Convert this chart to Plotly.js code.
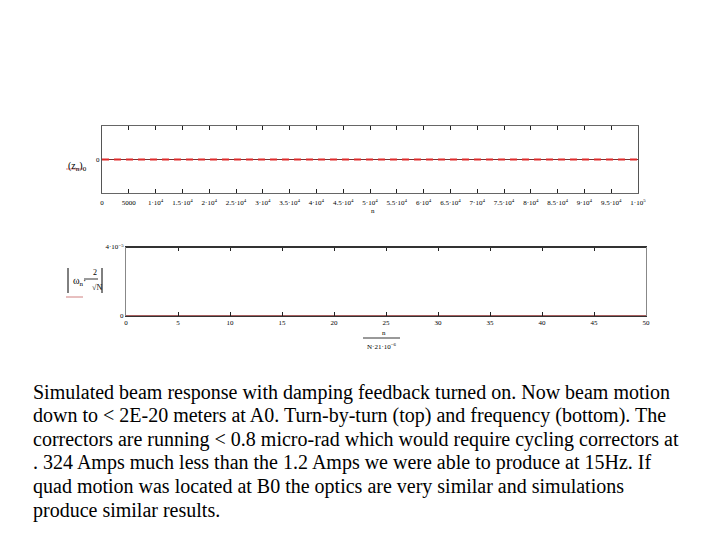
<!DOCTYPE html>
<html>
<head>
<meta charset="utf-8">
<script src="https://cdn.plot.ly/plotly-3.0.1.min.js"></script>
<style>html,body{margin:0;padding:0;background:#fff;}#chart{width:720px;height:540px;}</style>
</head>
<body>
<div id="chart"></div>
<script>
// Top panel: turn-by-turn position (values ~1e-20, drawn as zero)
var turnN = [0, 5000, 10000, 15000, 20000, 25000, 30000, 35000, 40000, 45000, 50000,
             55000, 60000, 65000, 70000, 75000, 80000, 85000, 90000, 95000, 100000];
var turnZ = [0, 0, 0, 0, 0, 0, 0, 0, 0, 0, 0, 0, 0, 0, 0, 0, 0, 0, 0, 0, 0];
var turnTickVals = [0, 5000, 10000, 15000, 20000, 25000, 30000, 35000, 40000, 45000, 50000,
             55000, 60000, 65000, 70000, 75000, 80000, 85000, 90000, 95000, 100000];
var turnTickText = ["0", "5000", "1·10<sup>4</sup>", "1.5·10<sup>4</sup>", "2·10<sup>4</sup>", "2.5·10<sup>4</sup>",
  "3·10<sup>4</sup>", "3.5·10<sup>4</sup>", "4·10<sup>4</sup>", "4.5·10<sup>4</sup>", "5·10<sup>4</sup>",
  "5.5·10<sup>4</sup>", "6·10<sup>4</sup>", "6.5·10<sup>4</sup>", "7·10<sup>4</sup>", "7.5·10<sup>4</sup>",
  "8·10<sup>4</sup>", "8.5·10<sup>4</sup>", "9·10<sup>4</sup>", "9.5·10<sup>4</sup>", "1·10<sup>5</sup>"];

// Bottom panel: frequency spectrum (essentially zero, tiny bump near 20)
var freqX = [0, 5, 10, 15, 18, 19, 19.5, 20, 20.5, 21, 22, 25, 30, 35, 40, 45, 50];
var freqAmp = [0, 0, 0, 0, 0, 0, 1e-7, 4e-7, 1e-7, 0, 0, 0, 0, 0, 0, 0, 0];
var freqTickVals = [0, 5, 10, 15, 20, 25, 30, 35, 40, 45, 50];
var freqTickText = ["0", "5", "10", "15", "20", "25", "30", "35", "40", "45", "50"];
var ampTickVals = [0, 4e-5];
var ampTickText = ["0", "4·10<sup>−5</sup>"];

var captionLines = [
  "Simulated beam response with damping feedback turned on. Now beam motion",
  "down to &lt; 2E-20 meters at A0. Turn-by-turn (top) and frequency (bottom). The",
  "correctors are running &lt; 0.8 micro-rad which would require cycling correctors at",
  ". 324 Amps much less than the 1.2 Amps we were able to produce at 15Hz. If",
  "quad motion was located at B0 the optics are very similar and simulations",
  "produce similar results."
];

var W = 720, H = 540;
function px(x){ return x / W; }
function py(y){ return 1 - y / H; }

var serif = "Liberation Serif, Times New Roman, serif";
var tickFont = {family: serif, size: 7, color: "#000"};
var labFont = {family: serif, size: 10, color: "#000"};
var smallLab = {family: serif, size: 8, color: "#000"};

var traces = [
  {x: turnN, y: turnZ, xaxis: "x", yaxis: "y", mode: "lines",
   line: {color: "#7a3030", width: 1}, hoverinfo: "skip"},
  {x: turnN, y: turnZ, xaxis: "x", yaxis: "y", mode: "lines",
   line: {color: "#e02a2a", width: 2, dash: "7px,5px"}, hoverinfo: "skip"},
  {x: freqX, y: freqAmp, xaxis: "x2", yaxis: "y2", mode: "lines",
   line: {color: "#8a2a2a", width: 1.5}, hoverinfo: "skip"}
];

var axBase = {showgrid: false, zeroline: false, showline: true, linewidth: 1,
  ticks: "inside", ticklen: 4, tickcolor: "#222", tickfont: tickFont, fixedrange: true};

var layout = {
  width: W, height: H,
  margin: {l: 0, r: 0, t: 0, b: 0},
  paper_bgcolor: "#fff", plot_bgcolor: "#fff",
  showlegend: false,
  xaxis: Object.assign({}, axBase, {
    domain: [px(102), px(638)], anchor: "y", range: [0, 100000],
    tickmode: "array", tickvals: turnTickVals, ticktext: turnTickText,
    mirror: "ticks", linecolor: "#666", ticklabelstandoff: 3
  }),
  yaxis: Object.assign({}, axBase, {
    domain: [py(193), py(126)], anchor: "x", range: [-1, 1],
    tickmode: "array", tickvals: [0], ticktext: ["0"], ticks: "",
    mirror: true, linecolor: "#555"
  }),
  xaxis2: Object.assign({}, axBase, {
    domain: [px(126), px(646)], anchor: "y2", range: [0, 50],
    tickmode: "array", tickvals: freqTickVals, ticktext: freqTickText,
    mirror: "ticks", linecolor: "#333"
  }),
  yaxis2: Object.assign({}, axBase, {
    domain: [py(316), py(247)], anchor: "x2", range: [0, 4e-5],
    tickmode: "array", tickvals: ampTickVals, ticktext: ampTickText, ticks: "",
    mirror: true, linecolor: "#888"
  }),
  shapes: [
    {type: "line", xref: "paper", yref: "paper", x0: px(126), x1: px(646), y0: py(247), y1: py(247),
     line: {color: "#333", width: 2}},
    {type: "line", xref: "paper", yref: "paper", x0: px(66), x1: px(84), y0: py(169), y1: py(169),
     line: {color: "#d88080", width: 1}},
    {type: "line", xref: "paper", yref: "paper", x0: px(68), x1: px(68), y0: py(268), y1: py(293),
     line: {color: "#000", width: 1}},
    {type: "line", xref: "paper", yref: "paper", x0: px(102), x1: px(102), y0: py(268), y1: py(293),
     line: {color: "#000", width: 1}},
    {type: "line", xref: "paper", yref: "paper", x0: px(84), x1: px(98), y0: py(279), y1: py(279),
     line: {color: "#000", width: 0.8}},
    {type: "line", xref: "paper", yref: "paper", x0: px(66), x1: px(83), y0: py(297), y1: py(297),
     line: {color: "#d08080", width: 1}},
    {type: "line", xref: "paper", yref: "paper", x0: px(363), x1: px(400), y0: py(338), y1: py(338),
     line: {color: "#000", width: 0.8}}
  ],
  annotations: [
    {xref: "paper", yref: "paper", x: px(66), y: py(158), xanchor: "left", text: "(z<sub>n</sub>)<sub>0</sub>",
     showarrow: false, font: labFont},
    {xref: "paper", yref: "paper", x: px(373), y: py(211), text: "n",
     showarrow: false, font: tickFont},
    {xref: "paper", yref: "paper", x: px(71), y: py(281), xanchor: "left", text: "ω<sub>n</sub>·",
     showarrow: false, font: labFont},
    {xref: "paper", yref: "paper", x: px(91), y: py(272), text: "2",
     showarrow: false, font: smallLab},
    {xref: "paper", yref: "paper", x: px(90), y: py(287), text: "√N",
     showarrow: false, font: smallLab},
    {xref: "paper", yref: "paper", x: px(384), y: py(333), text: "n",
     showarrow: false, font: tickFont},
    {xref: "paper", yref: "paper", x: px(381), y: py(346), text: "N·21·10<sup>−6</sup>",
     showarrow: false, font: tickFont}
  ]
};

var captionY = [392, 415, 439, 462, 486, 510];
for (var i = 0; i < captionLines.length; i++) {
  layout.annotations.push({xref: "paper", yref: "paper", x: px(31), y: py(captionY[i]),
    xanchor: "left", yanchor: "middle", align: "left", text: captionLines[i], showarrow: false,
    font: {family: serif, size: 20, color: "#000"}});
}

Plotly.newPlot("chart", traces, layout, {staticPlot: true, displayModeBar: false});
</script>
</body>
</html>
